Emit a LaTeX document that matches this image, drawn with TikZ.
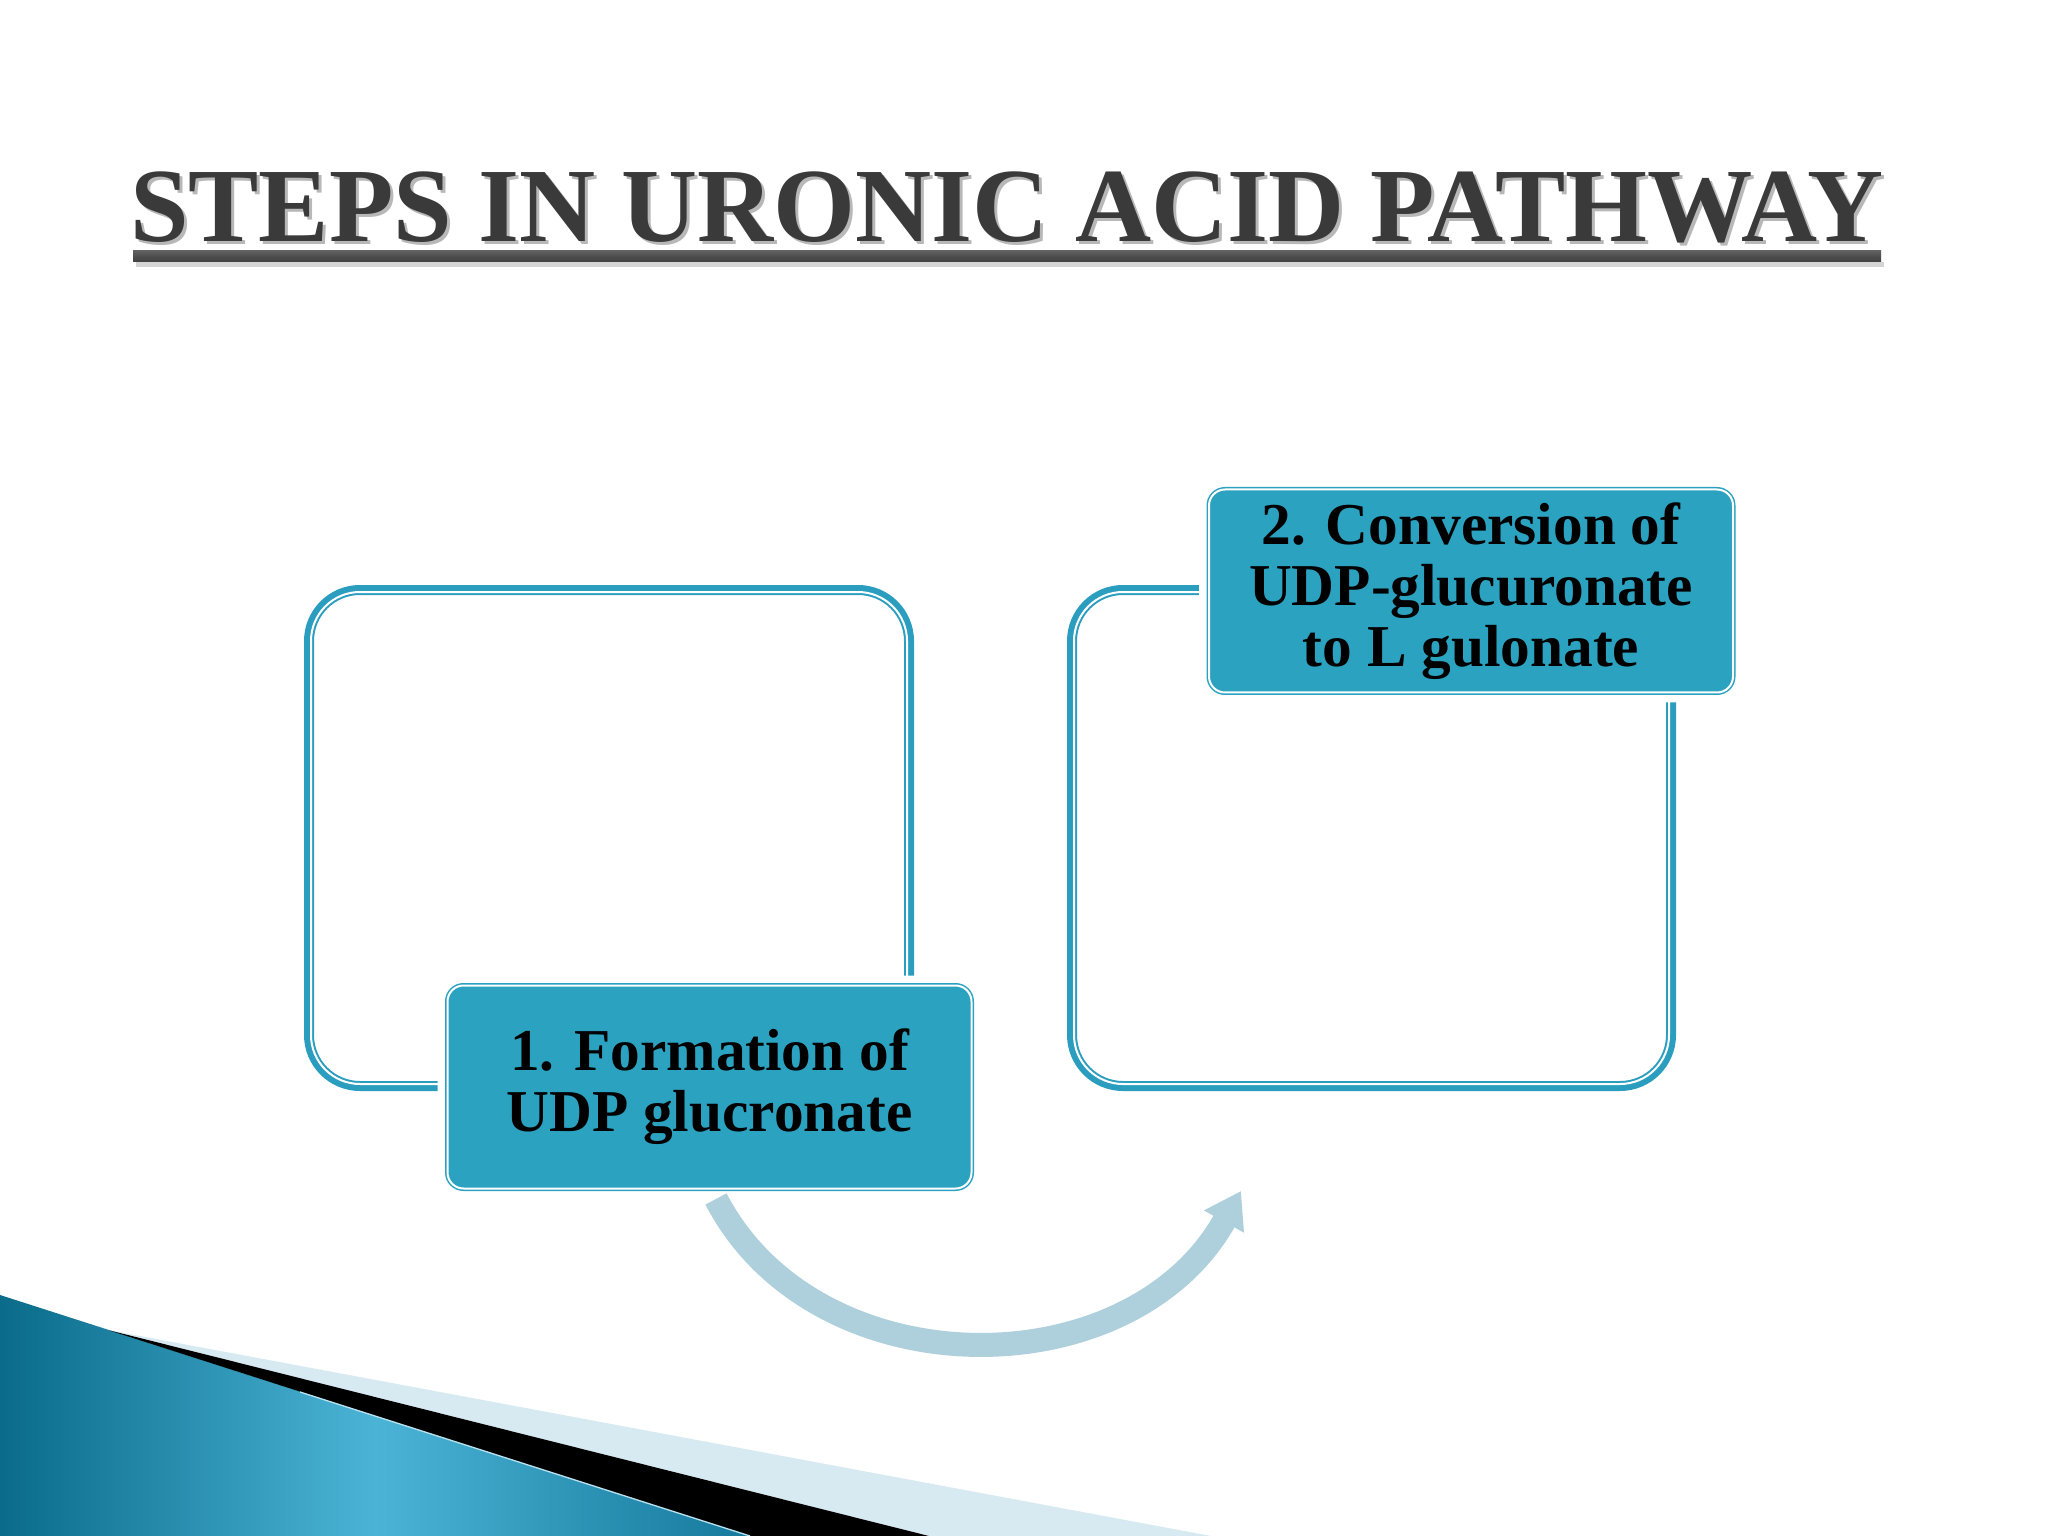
\documentclass[tikz,border=0pt]{standalone}
\usepackage{fontspec}
\setmainfont{Liberation Serif}
\usetikzlibrary{arrows.meta}
\definecolor{boxteal}{HTML}{2B9EC0}
\definecolor{labelteal}{HTML}{2CA2C1}
\definecolor{arrowblue}{HTML}{AECFDC}
\definecolor{titlegray}{HTML}{3A3A3A}
\definecolor{shadowgray}{HTML}{B8B8B8}
\definecolor{decoA}{HTML}{0A6B8A}
\definecolor{decoB}{HTML}{4BB4D6}
\definecolor{decoC}{HTML}{15799C}
\definecolor{lightband}{HTML}{D7E9F1}
\tikzset{
  bigbox/.style={draw=boxteal, line width=3pt, rounded corners=15.3pt, inner sep=0pt, outer sep=0pt,
    minimum height=148.8pt},
  innerline/.style={draw=white, line width=0.6pt, rounded corners=14.7pt},
  labelbox/.style={fill=labelteal, draw=labelteal, double=white, line width=0.45pt, double distance=0.6pt,
    rounded corners=4.8pt, inner sep=0pt, outer sep=0pt, minimum width=157.2pt, minimum height=60.9pt,
    align=center, text=black, font=\fontsize{17.8}{18.3}\selectfont\bfseries,
    preaction={draw=white, line width=6pt}},
  titletext/.style={anchor=base, font=\fontsize{31.6}{31.6}\selectfont\bfseries, inner sep=0pt},
  flowarrow/.style={draw=arrowblue, line width=7.2pt, -{Triangle[width=13pt,length=10.5pt]}}
}
\begin{document}
\begin{tikzpicture}[x=0.3pt,y=-0.3pt]
\useasboundingbox (0,0) rectangle (2048,1536);
\fill[white] (0,0) rectangle (2048,1536);

% title
\node[titletext, text=shadowgray] (titleshadow) at (1010,245) {STEPS IN URONIC ACID PATHWAY};
\node[titletext, text=titlegray] (title) at (1007,242) {STEPS IN URONIC ACID PATHWAY};
\fill[shadowgray!60] (136,262) rectangle (1884,267);
\shade[top color=gray!75!black, bottom color=black!75, middle color=gray!60!black] (133,251) rectangle (1881,262);

% big outline boxes
\node[bigbox, minimum width=180pt] (box1) at (609,838) {};
\draw[innerline] ([shift={(2,2)}]box1.north west) rectangle ([shift={(-2,-2)}]box1.south east);
\node[bigbox, minimum width=179.7pt] (box2) at (1371.5,838) {};
\draw[innerline] ([shift={(2,2)}]box2.north west) rectangle ([shift={(-2,-2)}]box2.south east);

% labels
\node[labelbox] (label1) at (709.5,1087) {1. Formation of\\UDP glucronate};
\node[labelbox] (label2) at (1471,591) {2. Conversion of\\UDP-glucuronate\\to L gulonate};

% curved arrow
\coordinate (arrowstart) at (716,1199);
\coordinate (arrowend) at (1241,1191);
\draw[flowarrow] (arrowstart) .. controls (815,1390) and (1130,1390) .. (arrowend);

% bottom-left decoration
\shade[left color=decoA, right color=decoC, middle color=decoB] (0,1295) -- (750,1536) -- (0,1536) -- cycle;
\fill[lightband] (108,1330) -- (1211,1536) -- (929,1536) -- cycle;
\fill[black] (108,1330) -- (929,1536) -- (750,1536) -- cycle;
\draw[decoB!40!white, line width=0.4pt] (300,1392) -- (750,1536);
\end{tikzpicture}
\end{document}
